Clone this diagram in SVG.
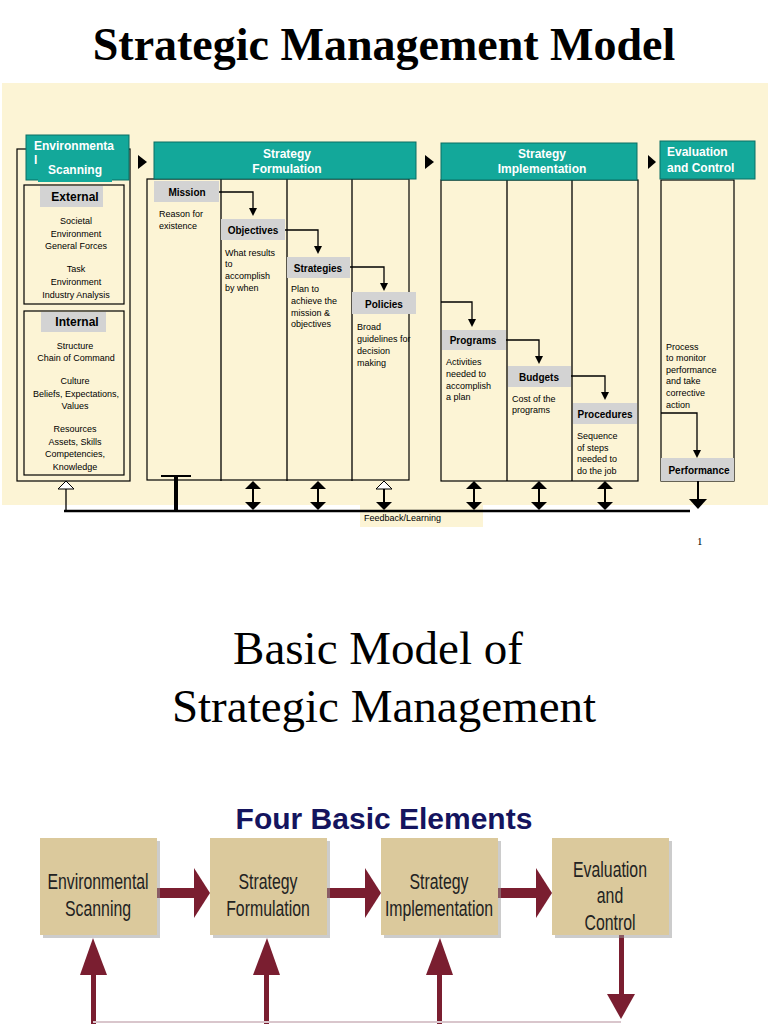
<svg xmlns="http://www.w3.org/2000/svg" width="768" height="1024" viewBox="0 0 768 1024">
<defs>
<style>
.t{font-family:"Liberation Sans",Arial,sans-serif;fill:#000}
.s{font-size:9px}
.lb{font-size:10px;font-weight:bold}
.hd{font-size:12px;font-weight:bold;fill:#fff}
.teal{fill:#13A89A;stroke:#0a6e64;stroke-width:1}
.gray{fill:#D3D3D3}
.box{fill:none;stroke:#000;stroke-width:1.2}
.ln{fill:none;stroke:#000;stroke-width:1.3}
.fb{fill:none;stroke:#000;stroke-width:2.5}
.mar{fill:#7A1E30}
.bx{fill:#DBC99C}
.nb{font-family:"Liberation Sans",Arial,sans-serif;font-size:22px;fill:#222}
</style>
<marker id="ah" markerWidth="8" markerHeight="8" refX="4" refY="4" orient="auto" markerUnits="userSpaceOnUse"><path d="M0,0 L8,4 L0,8 Z" fill="#000"/></marker>
</defs>
<rect width="768" height="1024" fill="#fff"/>
<text x="384" y="60" text-anchor="middle" font-family="Liberation Serif,serif" font-size="46" font-weight="bold">Strategic Management Model</text>
<rect x="2" y="83" width="766" height="422" fill="#FCF4D5"/>
<rect x="360" y="505" width="123" height="22" fill="#FCF4D5"/>

<g id="env">
<rect class="box" x="17" y="149" width="113" height="332"/>
<rect class="teal" x="26" y="135" width="103" height="45"/>
<rect x="38" y="160" width="74" height="22" fill="#13A89A"/>
<text class="t hd" x="34" y="150">Environmenta</text>
<text class="t hd" x="34" y="164" font-size="11">l</text>
<text class="t hd" x="48" y="174">Scanning</text>
<rect class="box" x="24" y="185" width="100" height="119"/>
<rect class="gray" x="40" y="186" width="63" height="21"/>
<text class="t" x="75" y="201" text-anchor="middle" font-size="12" font-weight="bold">External</text>
<g class="t s" text-anchor="middle">
<text x="76" y="224">Societal</text><text x="76" y="237">Environment</text><text x="76" y="249">General Forces</text>
<text x="76" y="272">Task</text><text x="76" y="285">Environment</text><text x="76" y="298">Industry Analysis</text>
</g>
<rect class="box" x="24" y="311" width="100" height="164"/>
<rect class="gray" x="41" y="312" width="65" height="20"/>
<text class="t" x="77" y="326" text-anchor="middle" font-size="12" font-weight="bold">Internal</text>
<g class="t s" text-anchor="middle">
<text x="75" y="349">Structure</text><text x="76" y="361">Chain of Command</text>
<text x="75" y="384">Culture</text><text x="76" y="397">Beliefs, Expectations,</text><text x="75" y="409">Values</text>
<text x="75" y="432">Resources</text><text x="75" y="445">Assets, Skills</text><text x="75" y="457">Competencies,</text><text x="75" y="470">Knowledge</text>
</g>
</g>

<g id="form">
<rect class="box" x="147" y="179" width="262" height="301"/>
<line class="ln" x1="221" y1="179" x2="221" y2="481"/><line class="ln" x1="287" y1="179" x2="287" y2="481"/><line class="ln" x1="352" y1="179" x2="352" y2="481"/>
<rect class="teal" x="154" y="142" width="262" height="37"/>
<text class="t hd" x="287" y="158" text-anchor="middle">Strategy</text>
<text class="t hd" x="287" y="173" text-anchor="middle">Formulation</text>
<rect class="gray" x="154" y="181" width="65" height="21"/><text class="t lb" x="187" y="196" text-anchor="middle">Mission</text>
<text class="t s" x="159" y="217">Reason for</text><text class="t s" x="159" y="229">existence</text>
<rect class="gray" x="221" y="219" width="64" height="21"/><text class="t lb" x="253" y="234" text-anchor="middle">Objectives</text>
<g class="t s"><text x="225" y="256">What results</text><text x="225" y="267">to</text><text x="225" y="279">accomplish</text><text x="225" y="291">by when</text></g>
<rect class="gray" x="287" y="257" width="63" height="21"/><text class="t lb" x="318" y="272" text-anchor="middle">Strategies</text>
<g class="t s"><text x="291" y="292">Plan to</text><text x="291" y="304">achieve the</text><text x="291" y="316">mission &amp;</text><text x="291" y="327">objectives</text></g>
<rect class="gray" x="352" y="292" width="64" height="22"/><text class="t lb" x="384" y="308" text-anchor="middle">Policies</text>
<g class="t s"><text x="357" y="330">Broad</text><text x="357" y="342">guidelines for</text><text x="357" y="354">decision</text><text x="357" y="366">making</text></g>
</g>

<g id="impl">
<rect class="box" x="441" y="180" width="197" height="301"/>
<line class="ln" x1="507" y1="180" x2="507" y2="481"/><line class="ln" x1="572" y1="180" x2="572" y2="481"/>
<rect class="teal" x="441" y="143" width="196" height="37"/>
<text class="t hd" x="542" y="158" text-anchor="middle">Strategy</text>
<text class="t hd" x="542" y="173" text-anchor="middle">Implementation</text>
<rect class="gray" x="442" y="330" width="64" height="20"/><text class="t lb" x="473" y="344" text-anchor="middle">Programs</text>
<g class="t s"><text x="446" y="365">Activities</text><text x="446" y="377">needed to</text><text x="446" y="389">accomplish</text><text x="446" y="400">a plan</text></g>
<rect class="gray" x="508" y="366" width="63" height="21"/><text class="t lb" x="539" y="381" text-anchor="middle">Budgets</text>
<g class="t s"><text x="512" y="402">Cost of the</text><text x="512" y="413">programs</text></g>
<rect class="gray" x="573" y="403" width="64" height="21"/><text class="t lb" x="605" y="418" text-anchor="middle">Procedures</text>
<g class="t s"><text x="577" y="439">Sequence</text><text x="577" y="451">of steps</text><text x="577" y="462">needed to</text><text x="577" y="474">do the job</text></g>
</g>

<g id="eval">
<rect class="box" x="661" y="180" width="73" height="301"/>
<rect class="teal" x="660" y="141" width="95" height="38"/>
<text class="t hd" x="667" y="156">Evaluation</text><text class="t hd" x="667" y="172">and Control</text>
<g class="t s"><text x="666" y="350">Process</text><text x="666" y="361">to monitor</text><text x="666" y="373">performance</text><text x="666" y="384">and take</text><text x="666" y="396">corrective</text><text x="666" y="408">action</text></g>
<rect class="gray" x="661" y="458" width="73" height="23"/><text class="t lb" x="699" y="474" text-anchor="middle">Performance</text>
</g>

<g id="feedback-label"><text class="t s" x="364" y="521">Feedback/Learning</text></g>
<text x="697" y="545" font-family="Liberation Serif,serif" font-size="11">1</text>

<g id="connectors">
<path d="M138,155 L147,162 L138,169 Z"/><path d="M425,155 L434,162 L425,169 Z"/><path d="M648,155 L656,162 L648,169 Z"/>
<path class="ln" d="M219,192 H253 V212" marker-end="url(#ah)"/>
<path class="ln" d="M285,230 H318 V250" marker-end="url(#ah)"/>
<path class="ln" d="M350,267 H384 V287" marker-end="url(#ah)"/>
<path class="ln" d="M441,302 H472 V323" marker-end="url(#ah)"/>
<path class="ln" d="M506,340 H539 V360" marker-end="url(#ah)"/>
<path class="ln" d="M571,376 H605 V396" marker-end="url(#ah)"/>
<path class="ln" d="M661,413 H697 V454" marker-end="url(#ah)"/>
<line class="fb" x1="64" y1="511" x2="690" y2="511"/>
<line class="ln" x1="66" y1="489" x2="66" y2="511"/><path d="M58,489 L66,481 L74,489 Z" fill="#fff" stroke="#000"/>
<line x1="176" y1="476" x2="176" y2="511" stroke="#000" stroke-width="4"/><line x1="161" y1="476" x2="191" y2="476" stroke="#000" stroke-width="2"/>
<g stroke="#000" stroke-width="2">
<line x1="253" y1="488" x2="253" y2="504"/><line x1="318" y1="488" x2="318" y2="504"/><line x1="384" y1="489" x2="384" y2="504"/>
<line x1="474" y1="489" x2="474" y2="504"/><line x1="539" y1="489" x2="539" y2="504"/><line x1="605" y1="489" x2="605" y2="504"/>
<line x1="698" y1="481" x2="698" y2="500"/>
</g>
<g>
<path d="M245,489 L253,481 L261,489 Z"/><path d="M245,502 L253,510 L261,502 Z"/>
<path d="M310,489 L318,481 L326,489 Z"/><path d="M310,502 L318,510 L326,502 Z"/>
<path d="M376,489 L384,481 L392,489 Z" fill="#fff" stroke="#000"/><path d="M376,502 L384,510 L392,502 Z"/>
<path d="M466,489 L474,481 L482,489 Z"/><path d="M466,502 L474,510 L482,502 Z"/>
<path d="M531,489 L539,481 L547,489 Z"/><path d="M531,502 L539,510 L547,502 Z"/>
<path d="M597,489 L605,481 L613,489 Z"/><path d="M597,502 L605,510 L613,502 Z"/>
<path d="M689,499 L698,509 L707,499 Z"/>
</g>
</g>

<text x="378" y="664" text-anchor="middle" font-family="Liberation Serif,serif" font-size="47">Basic Model of</text>
<text x="384" y="722" text-anchor="middle" font-family="Liberation Serif,serif" font-size="47">Strategic Management</text>
<text x="384" y="829" text-anchor="middle" font-family="Liberation Sans,Arial,sans-serif" font-size="30" font-weight="bold" fill="#14145E">Four Basic Elements</text>

<g id="b-connectors" class="mar">
<rect x="156" y="888" width="40" height="10"/><path d="M194,868 L210,893 L194,918 Z"/>
<rect x="326" y="888" width="40" height="10"/><path d="M365,868 L381,893 L365,918 Z"/>
<rect x="497" y="888" width="40" height="10"/><path d="M536,868 L552,893 L536,918 Z"/>
<rect x="91" y="972" width="5" height="52"/><path d="M80,975 L93,938 L107,975 Z"/>
<rect x="264" y="972" width="5" height="52"/><path d="M253,975 L267,938 L280,975 Z"/>
<rect x="437" y="972" width="5" height="52"/><path d="M426,975 L440,938 L453,975 Z"/>
<rect x="619" y="935" width="5" height="60"/><path d="M607,994 L621,1019 L635,994 Z"/>
<rect x="93" y="1021" width="528" height="2" fill="#d9c6cc"/>
</g>
<g id="b-env"><rect x="43" y="841" width="117" height="97" fill="#999" opacity="0.5"/><rect class="bx" x="40" y="838" width="117" height="97"/>
<text class="nb" transform="translate(98,889) scale(0.72,1)" text-anchor="middle">Environmental</text><text class="nb" transform="translate(98,916) scale(0.72,1)" text-anchor="middle">Scanning</text></g>
<g id="b-form"><rect x="213" y="841" width="117" height="97" fill="#999" opacity="0.5"/><rect class="bx" x="210" y="838" width="117" height="97"/>
<text class="nb" transform="translate(268,889) scale(0.72,1)" text-anchor="middle">Strategy</text><text class="nb" transform="translate(268,916) scale(0.72,1)" text-anchor="middle">Formulation</text></g>
<g id="b-impl"><rect x="384" y="841" width="117" height="97" fill="#999" opacity="0.5"/><rect class="bx" x="381" y="838" width="117" height="97"/>
<text class="nb" transform="translate(439,889) scale(0.72,1)" text-anchor="middle">Strategy</text><text class="nb" transform="translate(439,916) scale(0.72,1)" text-anchor="middle">Implementation</text></g>
<g id="b-eval"><rect x="555" y="841" width="117" height="97" fill="#999" opacity="0.5"/><rect class="bx" x="552" y="838" width="117" height="97"/>
<text class="nb" transform="translate(610,877) scale(0.72,1)" text-anchor="middle">Evaluation</text><text class="nb" transform="translate(610,903) scale(0.72,1)" text-anchor="middle">and</text><text class="nb" transform="translate(610,930) scale(0.72,1)" text-anchor="middle">Control</text></g>
</svg>
